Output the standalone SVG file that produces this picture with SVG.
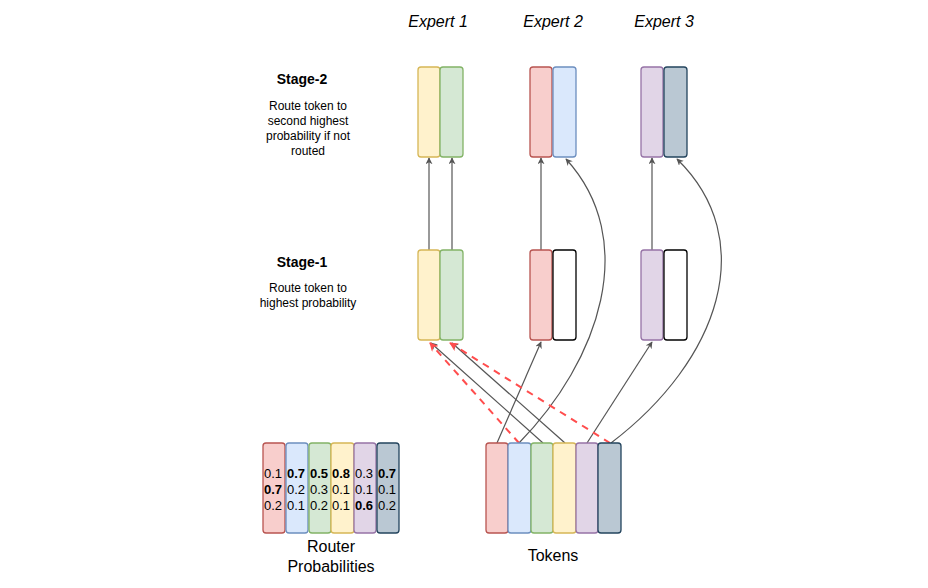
<svg xmlns="http://www.w3.org/2000/svg" width="928" height="588" viewBox="0 0 928 588">
<style>
text{font-family:"Liberation Sans",Arial,sans-serif;fill:#000}
.y{fill:#fff2cc;stroke:#d6b656}.g{fill:#d5e8d4;stroke:#82b366}.r{fill:#f8cecc;stroke:#b85450}
.b{fill:#dae8fc;stroke:#6c8ebf}.p{fill:#e1d5e7;stroke:#9673a6}.s{fill:#bac8d3;stroke:#23445d}.w{fill:#fff;stroke:#000}
rect{stroke-width:1.3}
.c{fill:none;stroke:#555;stroke-width:1.2}
.d{fill:none;stroke:#ff4d4d;stroke-width:2;stroke-dasharray:7 6}
.e{font-size:16px;font-style:italic}
.h{font-size:14px;font-weight:bold}
.t{font-size:12px}
.n{font-size:13px}
</style>
<defs>
<marker id="a" viewBox="0 0 10 10" refX="9" refY="5" markerWidth="7" markerHeight="7" orient="auto" markerUnits="userSpaceOnUse"><path d="M0,0L10,5L0,10L3,5Z" fill="#555"/></marker>
<marker id="ar" viewBox="0 0 10 10" refX="9" refY="5" markerWidth="9" markerHeight="9" orient="auto" markerUnits="userSpaceOnUse"><path d="M0,0L10,5L0,10L3,5Z" fill="#ff4d4d"/></marker>
</defs>
<g id="labels">
<text class="e" x="438" y="27" text-anchor="middle">Expert 1</text>
<text class="e" x="553" y="27" text-anchor="middle">Expert 2</text>
<text class="e" x="664" y="27" text-anchor="middle">Expert 3</text>
<text class="h" x="302" y="84" text-anchor="middle">Stage-2</text>
<text class="t" x="308" y="110" text-anchor="middle">Route token to</text>
<text class="t" x="308" y="125" text-anchor="middle">second highest</text>
<text class="t" x="308" y="140" text-anchor="middle">probability if not</text>
<text class="t" x="308" y="155" text-anchor="middle">routed</text>
<text class="h" x="302" y="267" text-anchor="middle">Stage-1</text>
<text class="t" x="308" y="292" text-anchor="middle">Route token to</text>
<text class="t" x="308" y="307" text-anchor="middle">highest probability</text>
</g>
<g id="connectors">
<path class="c" d="M429,250V158" marker-end="url(#a)"/>
<path class="c" d="M452,250V158" marker-end="url(#a)"/>
<path class="c" d="M541,250V158" marker-end="url(#a)"/>
<path class="c" d="M652,250V158" marker-end="url(#a)"/>
<path class="c" d="M497,443L541,342" marker-end="url(#a)"/>
<path class="c" d="M587,443L652,342" marker-end="url(#a)"/>
<path class="c" d="M543,443L431,343" marker-end="url(#a)"/>
<path class="c" d="M565,443L452,343" marker-end="url(#a)"/>
<path class="c" d="M519,443C600,360 640,240 566,159" marker-end="url(#a)"/>
<path class="c" d="M611,443C720,360 760,240 677,159" marker-end="url(#a)"/>
<path class="d" d="M519,443L430,343" marker-end="url(#ar)"/>
<path class="d" d="M610,443L450,343" marker-end="url(#ar)"/>
</g>
<g id="expert1-stage2"><rect class="y" x="418" y="67" width="22" height="90" rx="3"/><rect class="g" x="440" y="67" width="23" height="90" rx="3"/></g>
<g id="expert2-stage2"><rect class="r" x="530" y="67" width="22" height="90" rx="3"/><rect class="b" x="553" y="67" width="23" height="90" rx="3"/></g>
<g id="expert3-stage2"><rect class="p" x="641" y="67" width="22" height="90" rx="3"/><rect class="s" x="664" y="67" width="23" height="90" rx="3"/></g>
<g id="expert1-stage1"><rect class="y" x="418" y="250" width="22" height="90" rx="3"/><rect class="g" x="440" y="250" width="23" height="90" rx="3"/></g>
<g id="expert2-stage1"><rect class="r" x="530" y="250" width="22" height="90" rx="3"/><rect class="w" x="553" y="250" width="23" height="90" rx="3"/></g>
<g id="expert3-stage1"><rect class="p" x="641" y="250" width="22" height="90" rx="3"/><rect class="w" x="664" y="250" width="23" height="90" rx="3"/></g>
<g id="tokens">
<rect class="r" x="486" y="443" width="22" height="90" rx="3"/><rect class="b" x="508" y="443" width="23" height="90" rx="3"/>
<rect class="g" x="531" y="443" width="22" height="90" rx="3"/><rect class="y" x="553" y="443" width="23" height="90" rx="3"/>
<rect class="p" x="576" y="443" width="22" height="90" rx="3"/><rect class="s" x="598" y="443" width="23" height="90" rx="3"/>
<text x="553" y="561" text-anchor="middle" font-size="16">Tokens</text>
</g>
<g id="router">
<rect class="r" x="263" y="443" width="22" height="90" rx="3"/><rect class="b" x="286" y="443" width="22" height="90" rx="3"/>
<rect class="g" x="309" y="443" width="22" height="90" rx="3"/><rect class="y" x="331" y="443" width="23" height="90" rx="3"/>
<rect class="p" x="354" y="443" width="22" height="90" rx="3"/><rect class="s" x="377" y="443" width="22" height="90" rx="3"/>
<g class="n">
<text x="264" y="478">0.1</text><text x="264" y="494" font-weight="bold">0.7</text><text x="264" y="510">0.2</text>
<text x="287" y="478" font-weight="bold">0.7</text><text x="287" y="494">0.2</text><text x="287" y="510">0.1</text>
<text x="310" y="478" font-weight="bold">0.5</text><text x="310" y="494">0.3</text><text x="310" y="510">0.2</text>
<text x="332" y="478" font-weight="bold">0.8</text><text x="332" y="494">0.1</text><text x="332" y="510">0.1</text>
<text x="355" y="478">0.3</text><text x="355" y="494">0.1</text><text x="355" y="510" font-weight="bold">0.6</text>
<text x="378" y="478" font-weight="bold">0.7</text><text x="378" y="494">0.1</text><text x="378" y="510">0.2</text>
</g>
<text x="331" y="552" text-anchor="middle" font-size="16">Router</text>
<text x="331" y="572" text-anchor="middle" font-size="16">Probabilities</text>
</g>
</svg>
